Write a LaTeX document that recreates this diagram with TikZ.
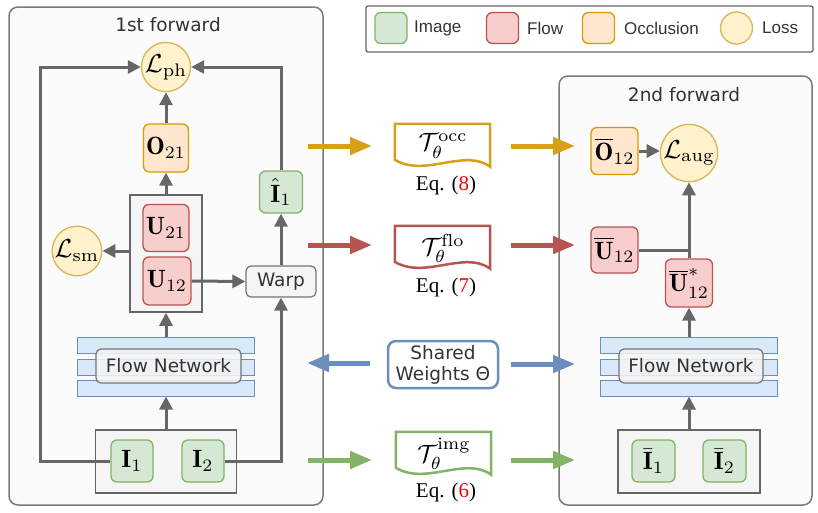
\documentclass[tikz,border=0pt]{standalone}
\usepackage{graphicx}
\usepackage{fontspec}
\newfontfamily\lab{DejaVu Sans}
\newfontfamily\leg{Liberation Sans}
\newfontfamily\eqf{Liberation Serif}
\usetikzlibrary{arrows.meta,calc}
\definecolor{gfill}{HTML}{D5E8D4}\definecolor{gline}{HTML}{82B366}
\definecolor{rfill}{HTML}{F8CECC}\definecolor{rline}{HTML}{B85450}
\definecolor{ofill}{HTML}{FFE6CC}\definecolor{oline}{HTML}{D79B00}
\definecolor{lfill}{HTML}{FFF2CC}\definecolor{lline}{HTML}{D6B656}
\definecolor{bfill}{HTML}{DAE8FC}\definecolor{bline}{HTML}{6C8EBF}
\definecolor{cfill}{HTML}{F5F5F5}\definecolor{cline}{HTML}{666666}
\definecolor{pline}{HTML}{7A7A7A}\definecolor{pfill}{HTML}{FBFBFB}
\definecolor{txt}{HTML}{333333}
\definecolor{occc}{HTML}{D8A018}\definecolor{floc}{HTML}{B85450}
\definecolor{blc}{HTML}{6C8EBF}\definecolor{grc}{HTML}{82B366}
\newcommand\mth[1]{\scalebox{2.5}{$#1$}}
\newcommand\mlo[1]{\scalebox{2.6}{$#1$}}
\newcommand\sfont{\lab\fontsize{18.5}{22}\selectfont}
\newcommand\lfont{\leg\fontsize{17}{20}\selectfont}
\newcommand\efont{\eqf\fontsize{21}{24}\selectfont}
\tikzset{
  box/.style={draw, rounded corners=6pt, line width=1.3pt, inner sep=0pt},
  imgbox/.style={box, fill=gfill, draw=gline},
  flobox/.style={box, fill=rfill, draw=rline},
  occbox/.style={box, fill=ofill, draw=oline},
  lossc/.style={circle, draw=lline, fill=lfill, line width=1.3pt, inner sep=0pt},
  cont/.style={draw=cline, fill=cfill, line width=1.5pt, inner sep=0pt},
  panel/.style={draw=pline, fill=pfill, rounded corners=9pt, line width=1.5pt, inner sep=0pt},
  bar/.style={draw=bline, fill=bfill, line width=1pt, inner sep=0pt, minimum width=177pt, minimum height=16pt},
  fnet/.style={draw=cline!90, fill=cfill, fill opacity=0.85, text opacity=1, rounded corners=5pt, line width=1.2pt, font=\sfont, text=txt, inner sep=0pt},
  garrow/.style={draw=cline, line width=3pt, -{Triangle[length=13pt,width=13pt]}},
  gline/.style={draw=cline, line width=3pt},
  carrow/.style={line width=5pt, -{Triangle[length=22pt,width=17pt]}},
  docn/.style={minimum width=95pt, minimum height=44pt, inner sep=0pt},
  docline/.style={line width=2.5pt, fill=white},
  ttl/.style={font=\sfont, text=txt},
  legt/.style={font=\lfont, text=txt, anchor=west, inner sep=0pt},
  eqt/.style={font=\efont},
}
\newcommand\docpath[2]{%
  \draw[docline, draw=#2] (#1.north west) -- (#1.north east) -- ($(#1.north east)+(0,43)$)
    .. controls ($(#1.north west)+(70,24)$) and ($(#1.north west)+(30,54)$) .. ($(#1.north west)+(0,36)$) -- cycle;}
\begin{document}
\begin{tikzpicture}[x=1pt,y=-1pt]
\useasboundingbox (0,0) rectangle (818,512);
% panels
\node[panel, minimum width=314pt, minimum height=498pt] (P1) at (166,256) {};
\node[panel, minimum width=253pt, minimum height=429pt] (P2) at (685.5,290.5) {};
\node[ttl] (t1) at (168,25) {1st forward};
\node[ttl] (t2) at (684,95) {2nd forward};
% legend
\node[draw=cline, fill=white, line width=1.3pt, rounded corners=2pt, minimum width=447pt, minimum height=46pt, inner sep=0pt] (leg) at (589.5,29) {};
\node[imgbox, minimum width=32pt, minimum height=31pt] (lg1) at (391,28) {};
\node[legt] (lt1) at (414,28) {Image};
\node[flobox, minimum width=32pt, minimum height=31pt] (lg2) at (502.5,28) {};
\node[legt] (lt2) at (527,28) {Flow};
\node[occbox, minimum width=32pt, minimum height=31pt] (lg3) at (598.5,28) {};
\node[legt] (lt3) at (624,28) {Occlusion};
\node[lossc, minimum size=32pt] (lg4) at (736.5,28) {};
\node[legt] (lt4) at (762,28) {Loss};
% left panel
\node[lossc, minimum size=48pt] (Lph) at (166,67) {\mlo{\mathcal{L}_{\mathrm{ph}}}};
\node[occbox, minimum width=45pt, minimum height=48pt] (O21) at (166,148) {\mth{\mathbf{O}_{21}}};
\node[imgbox, minimum width=43pt, minimum height=42pt] (Ih1) at (281,192) {\mth{\hat{\mathbf{I}}_1}};
\node[cont, minimum width=72pt, minimum height=117pt] (Ubox) at (166,253.5) {};
\node[flobox, minimum width=46pt, minimum height=47pt] (U21) at (166,228) {\mth{\mathbf{U}_{21}}};
\node[flobox, minimum width=48pt, minimum height=48pt] (U12) at (167,281) {\mth{\mathbf{U}_{12}}};
\node[lossc, minimum size=48pt] (Lsm) at (77,251) {\mlo{\mathcal{L}_{\mathrm{sm}}}};
\node[fnet, fill opacity=1, minimum width=70pt, minimum height=31pt, rounded corners=5pt] (Warp) at (281,281.5) {Warp};
\node[bar] (b1) at (166,345) {};
\node[bar] (b2) at (166,367.5) {};
\node[bar] (b3) at (166,388) {};
\node[fnet, minimum width=145pt, minimum height=34pt] (FN) at (168.5,366) {Flow Network};
\node[cont, minimum width=141pt, minimum height=63pt] (Ibox) at (166,461.5) {};
\node[imgbox, minimum width=42pt, minimum height=42pt] (I1) at (132,461) {\mth{\mathbf{I}_1}};
\node[imgbox, minimum width=42pt, minimum height=42pt] (I2) at (203,461) {\mth{\mathbf{I}_2}};
% left connectors
\draw[garrow] (I1.west) -- ++(-70,0) |- (Lph.west);
\draw[garrow] (I2.east) -| (Warp.south);
\draw[garrow] (Warp.north) -- (Ih1.south);
\draw[garrow] (Ih1.north) |- (Lph.east);
\draw[garrow] (O21.north) -- (Lph.south);
\draw[garrow] (Ubox.north) -- (O21.south);
\draw[garrow] (b1.north) -- (Ubox.south);
\draw[garrow] (Ibox.north) -- (b3.south);
\draw[garrow] (Ubox.west |- Lsm.east) -- (Lsm.east);
\draw[garrow] (U12.east) -- (Warp.west);
% right panel
\node[occbox, minimum width=47pt, minimum height=47pt] (Ob12) at (614.5,151) {\mth{\overline{\mathbf{O}}_{12}}};
\node[lossc, minimum size=55pt] (Laug) at (689,153) {\mlo{\mathcal{L}_{\mathrm{aug}}}};
\node[flobox, minimum width=47pt, minimum height=46pt] (Ub12) at (614.5,250) {\mth{\overline{\mathbf{U}}_{12}}};
\node[flobox, minimum width=47pt, minimum height=48pt] (Ubs) at (689,283) {\mth{\overline{\mathbf{U}}^{*}_{12}}};
\node[bar] (rb1) at (689,345) {};
\node[bar] (rb2) at (689,367.5) {};
\node[bar] (rb3) at (689,388) {};
\node[fnet, minimum width=144pt, minimum height=34pt] (FN2) at (691,366) {Flow Network};
\node[cont, minimum width=142pt, minimum height=63pt] (Ibbox) at (689,461.5) {};
\node[imgbox, minimum width=43pt, minimum height=42pt] (Ib1) at (653.5,461) {\mth{\bar{\mathbf{I}}_1}};
\node[imgbox, minimum width=43pt, minimum height=42pt] (Ib2) at (724.5,461) {\mth{\bar{\mathbf{I}}_2}};
\draw[garrow] (Ob12.east) -- (Laug.west |- Ob12.east);
\draw[garrow] (Ubs.north) -- (Laug.south);
\draw[gline] (Ub12.east) -- (Ub12.east -| Ubs.north);
\draw[garrow] (rb1.north) -- (Ubs.south);
\draw[garrow] (Ibbox.north) -- (rb3.south);
% middle
\node[docn] (Docc) at (442.5,146) {};
\docpath{Docc}{occc}
\node (Tocc) at (443,146) {\mth{\mathcal{T}_{\theta}^{\mathrm{occ}}}};
\node[eqt] (E8) at (446,185) {Eq. (\textcolor{red}{8})};
\node[docn] (Dflo) at (442.5,248) {};
\docpath{Dflo}{floc}
\node (Tflo) at (443,248) {\mth{\mathcal{T}_{\theta}^{\mathrm{flo}}}};
\node[eqt] (E7) at (446,287) {Eq. (\textcolor{red}{7})};
\node[docn] (Dimg) at (443.5,454) {};
\docpath{Dimg}{grc}
\node (Timg) at (444,454) {\mth{\mathcal{T}_{\theta}^{\mathrm{img}}}};
\node[eqt] (E6) at (446,492) {Eq. (\textcolor{red}{6})};
\node[draw=blc, line width=2.5pt, rounded corners=8pt, fill=white, minimum width=110pt, minimum height=47pt, align=center, font=\sfont, text=txt, inner sep=0pt] (SW) at (443,364.5) {Shared\\[-1pt]Weights Θ};
% coloured arrows
\coordinate (oa) at (308,146); \coordinate (ob) at (372,146);
\coordinate (oc) at (511,146); \coordinate (od) at (575,146);
\coordinate (fa) at (308,245); \coordinate (fb) at (372,245);
\coordinate (fc) at (511,245); \coordinate (fd) at (575,245);
\coordinate (ba) at (370,363); \coordinate (bb) at (307,363);
\coordinate (bc) at (511,364); \coordinate (bd) at (575,364);
\coordinate (ga) at (308,460); \coordinate (gb) at (372,460);
\coordinate (gc) at (511,460); \coordinate (gd) at (575,460);
\draw[carrow, occc] (oa) -- (ob);
\draw[carrow, occc] (oc) -- (od);
\draw[carrow, floc] (fa) -- (fb);
\draw[carrow, floc] (fc) -- (fd);
\draw[carrow, blc] (ba) -- (bb);
\draw[carrow, blc] (bc) -- (bd);
\draw[carrow, grc] (ga) -- (gb);
\draw[carrow, grc] (gc) -- (gd);
\end{tikzpicture}
\end{document}
